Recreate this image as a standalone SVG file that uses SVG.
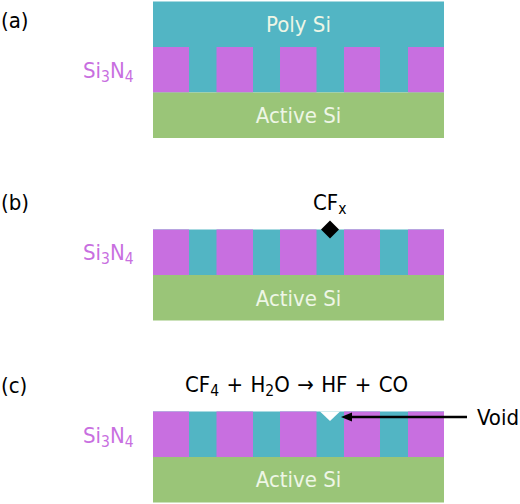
<svg xmlns="http://www.w3.org/2000/svg" width="520" height="504" viewBox="0 0 520 504">
<style>
text{font-family:"DejaVu Sans Condensed","DejaVu Sans",sans-serif;font-stretch:condensed;font-size:22px;fill:#000}
.w{fill:#eef6e6;text-anchor:middle}
.p{fill:#c86fe0}
.s{font-size:15.500px}
.teal{fill:#52b5c4}.pur{fill:#c86fe0}.grn{fill:#9ac578}
</style>
<defs>
<g id="cols">
<rect class="pur" x="153" y="0" width="36" height="45.500"/>
<rect class="pur" x="216.500" y="0" width="36.500" height="45.500"/>
<rect class="pur" x="280" y="0" width="36.500" height="45.500"/>
<rect class="pur" x="344" y="0" width="36" height="45.500"/>
<rect class="pur" x="408" y="0" width="36" height="45.500"/>
</g>
</defs>
<rect width="520" height="504" fill="#fff"/>
<g id="panel-a">
<rect class="teal" x="153" y="1.500" width="291" height="91"/>
<use href="#cols" y="47"/>
<rect class="grn" x="153" y="92.500" width="291" height="45.500"/>
<text class="w" x="298.500" y="32">Poly Si</text>
<text class="w" x="298.500" y="123">Active Si</text>
<text x="1" y="28">(a)</text>
<text class="p" x="83" y="78">Si<tspan class="p s" dy="4">3</tspan><tspan class="p" dy="-4">N</tspan><tspan class="p s" dy="4">4</tspan></text>
</g>
<g id="panel-b">
<rect class="teal" x="153" y="229.500" width="291" height="45.500"/>
<use href="#cols" y="229.500"/>
<rect class="grn" x="153" y="275" width="291" height="45.500"/>
<text class="w" x="298.500" y="306">Active Si</text>
<text x="1" y="210">(b)</text>
<text class="p" x="83" y="260">Si<tspan class="p s" dy="4">3</tspan><tspan class="p" dy="-4">N</tspan><tspan class="p s" dy="4">4</tspan></text>
<text x="313" y="210">CF<tspan class="s" dy="4">x</tspan></text>
<path id="diamond" d="M330 220.500L339 229.500L330 238.500L321 229.500Z" fill="#000"/>
</g>
<g id="panel-c">
<rect class="teal" x="153" y="411.500" width="291" height="45.500"/>
<use href="#cols" y="411.500"/>
<rect class="grn" x="153" y="457" width="291" height="45.500"/>
<path id="void" d="M320 411.500H340L330 421Z" fill="#fff"/>
<text class="w" x="298.500" y="487">Active Si</text>
<text x="1" y="393">(c)</text>
<text class="p" x="83" y="443">Si<tspan class="p s" dy="4">3</tspan><tspan class="p" dy="-4">N</tspan><tspan class="p s" dy="4">4</tspan></text>
<text x="185" y="392" word-spacing="1.100">CF<tspan class="s" dy="4">4</tspan><tspan dy="-4"> + H</tspan><tspan class="s" dy="4">2</tspan><tspan dy="-4">O → HF + CO</tspan></text>
<text x="477" y="425">Void</text>
</g>
<g id="connectors">
<line x1="350" y1="417" x2="467" y2="417" stroke="#000" stroke-width="2.500"/>
<path d="M341 417L352 412.500V421.500Z" fill="#000"/>
</g>
</svg>
